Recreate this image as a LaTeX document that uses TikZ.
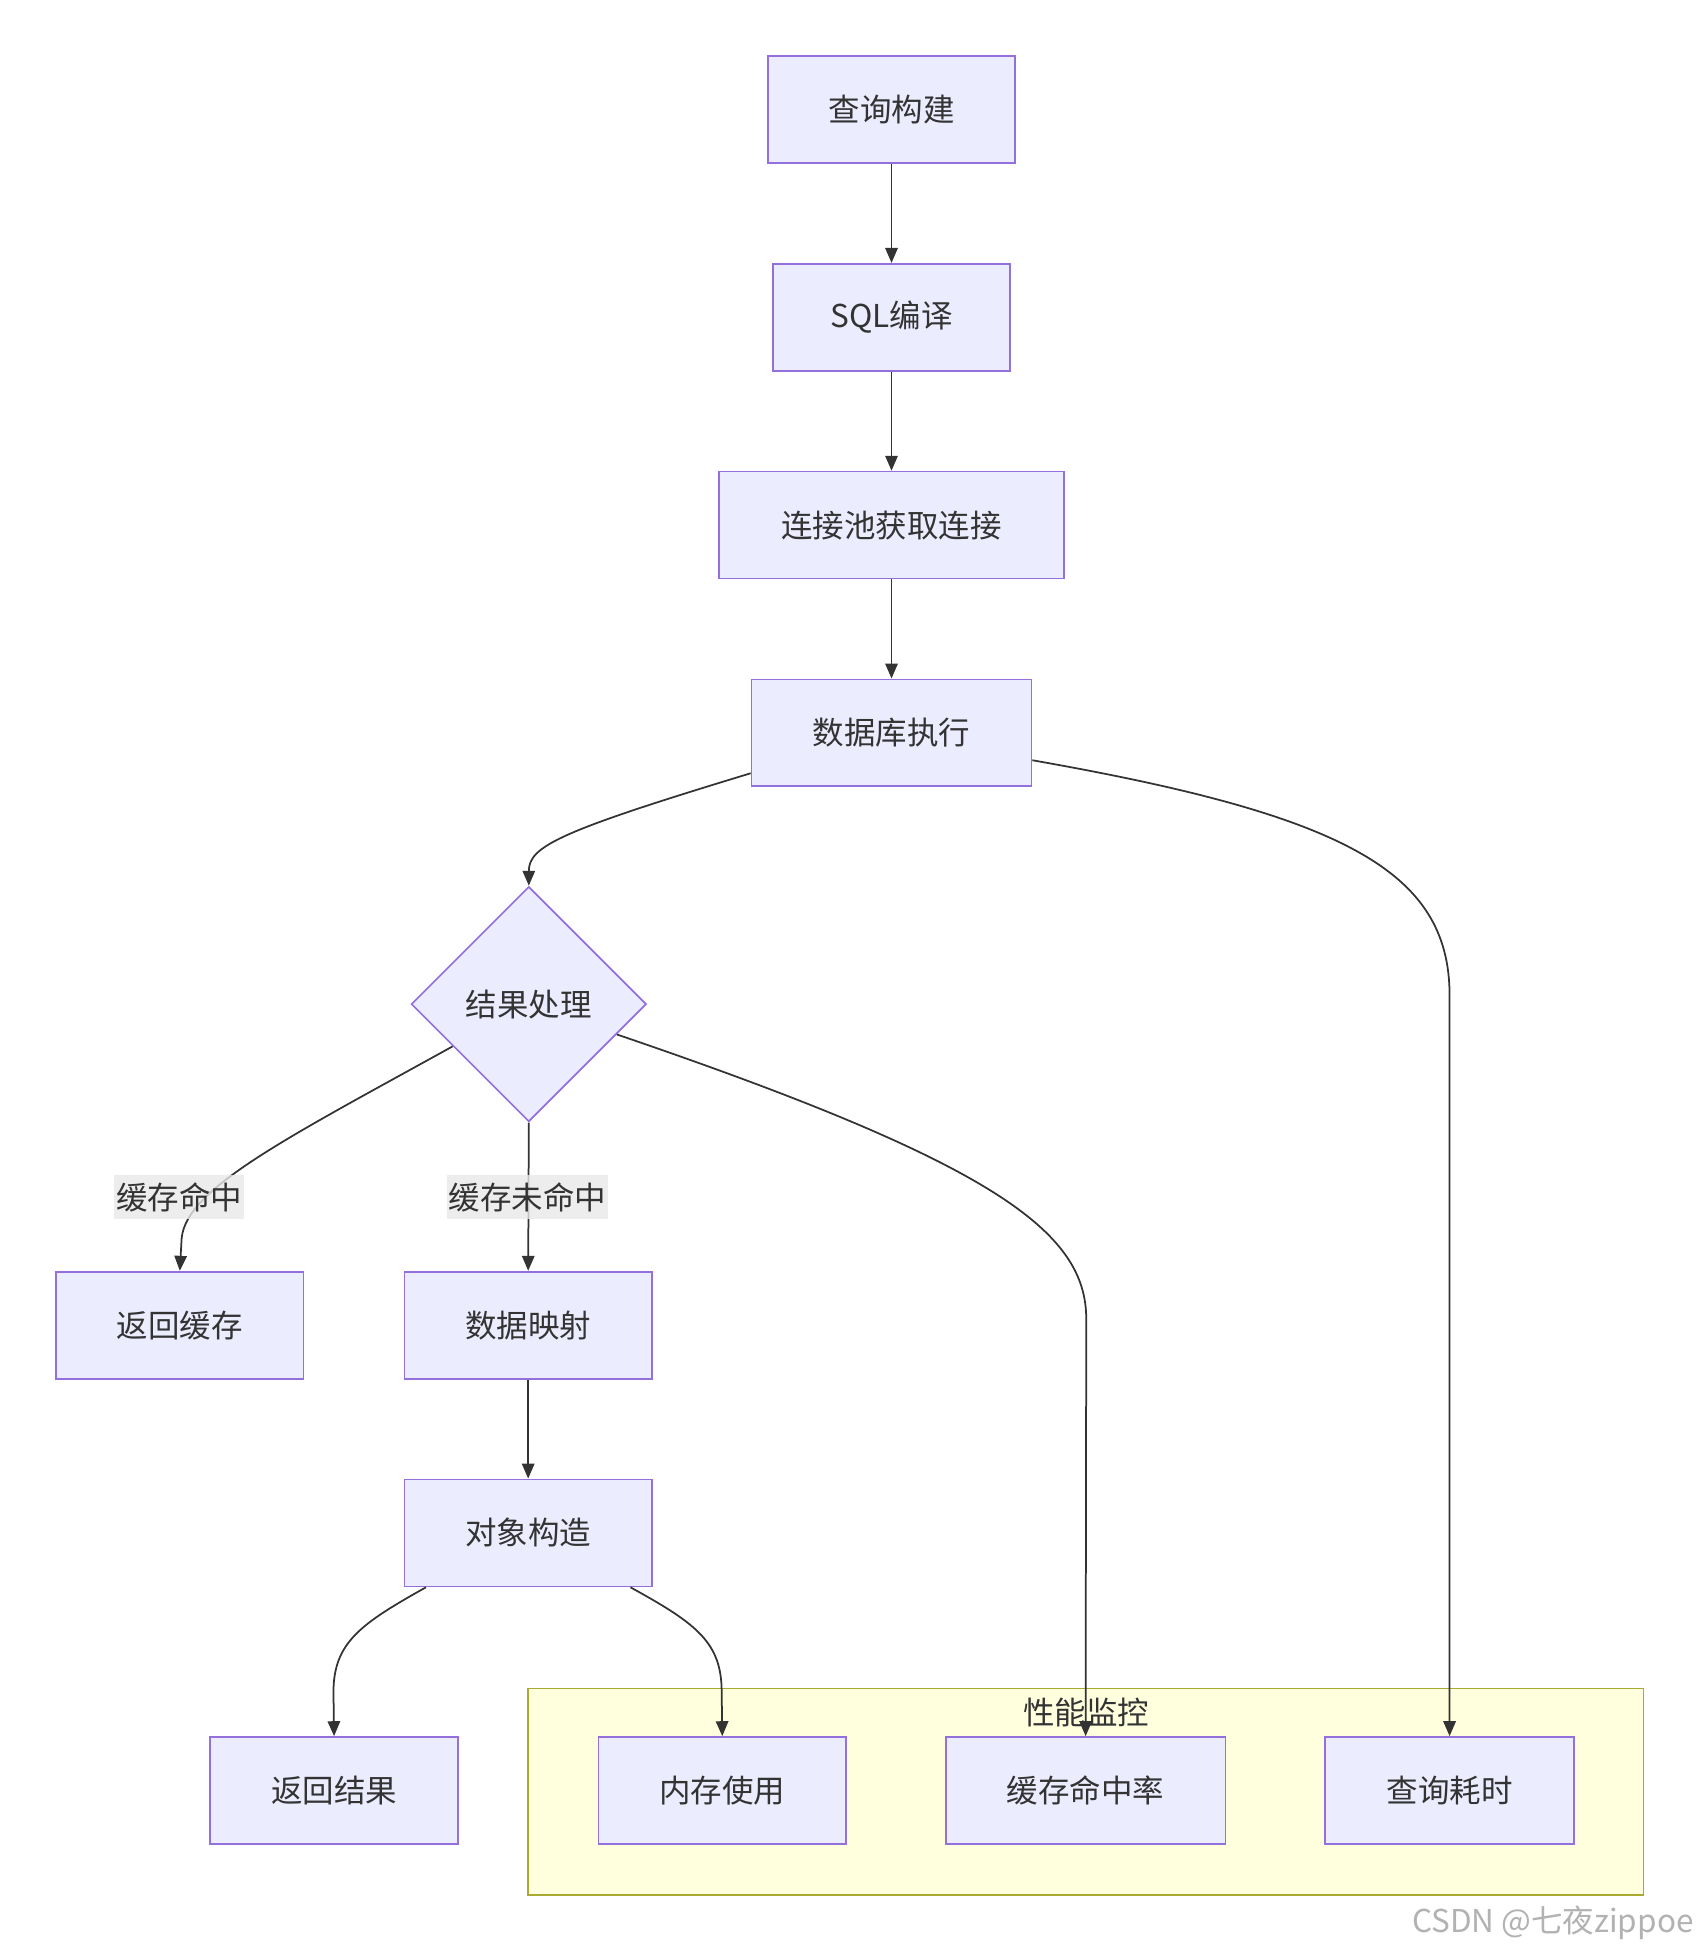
\documentclass[tikz,border=0pt]{standalone}
\usepackage{fontspec}
\newfontfamily\cjk{Noto Sans CJK SC}
\usetikzlibrary{shapes.geometric,arrows.meta}
\definecolor{nodefill}{HTML}{ECECFF}
\definecolor{nodeline}{HTML}{9370DB}
\definecolor{edgeline}{HTML}{333333}
\definecolor{labelfill}{HTML}{E8E8E8}
\definecolor{groupfill}{HTML}{FFFFDE}
\definecolor{groupline}{HTML}{AAAA33}
\begin{document}
\begin{tikzpicture}[x=0.02cm,y=-0.02cm,
        every node/.style={font=\cjk\fontsize{14.4}{17}\selectfont,text=edgeline},
        box/.style={draw=nodeline,fill=nodefill,line width=0.8pt,minimum height=1.72cm,inner sep=0pt},
        decision/.style={diamond,aspect=1,draw=nodeline,fill=nodefill,line width=0.8pt,minimum width=3.78cm,minimum height=3.78cm,inner sep=0pt},
        edgelabel/.style={fill=labelfill,fill opacity=0.8,text opacity=1,inner xsep=1pt,inner ysep=0pt,minimum height=0.72cm},
        flow/.style={draw=edgeline,line width=0.8pt,-{Triangle[length=0.24cm,width=0.2cm]}},
        group/.style={draw=groupline,fill=groupfill,line width=0.8pt,minimum width=17.94cm,minimum height=3.32cm,inner sep=0pt}]
        \useasboundingbox (0,0) rectangle (1366,1568);

        % Draw the monitoring group behind its nodes
        \node[group] (monitor) at (872.5,1440) {};
        \node (monitortitle) at (873,1376) {性能监控};

        % Draw the main query pipeline
        \node[box,minimum width=3.98cm] (build) at (716.5,88) {查询构建};
        \node[box,minimum width=3.82cm] (compile) at (716.5,255) {SQL编译};
        \node[box,minimum width=5.54cm] (pool) at (716.5,422) {连接池获取连接};
        \node[box,minimum width=4.5cm] (exec) at (716.5,589) {数据库执行};
        \node[decision] (result) at (425,807) {结果处理};

        % Draw the two result branches
        \node[box,minimum width=3.98cm] (retcache) at (144.5,1065) {返回缓存};
        \node[box,minimum width=3.98cm] (mapping) at (424.5,1065) {数据映射};
        \node[box,minimum width=3.98cm] (objbuild) at (424.5,1232) {对象构造};
        \node[box,minimum width=3.98cm] (retres) at (268.5,1439) {返回结果};

        % Draw the monitoring nodes
        \node[box,minimum width=3.98cm] (memuse) at (580.5,1439) {内存使用};
        \node[box,minimum width=4.5cm] (hitrate) at (872.5,1439) {缓存命中率};
        \node[box,minimum width=4cm] (qtime) at (1165,1439) {查询耗时};

        % Draw the connectors
        \draw[flow] (build) -- (compile);
        \draw[flow] (compile) -- (pool);
        \draw[flow] (pool) -- (exec);
        \draw[flow] (exec.196) .. controls (450,668) and (425,680) .. (result.north);
        \draw[flow] (exec.-11) .. controls (1080,655) and (1165,700) .. (1165,800) -- (qtime.north);
        \draw[flow] (result.209) .. controls (230,915) and (150,955) .. (146,995) -- (retcache.north);
        \draw[flow] (result.south) -- (mapping.north);
        \draw[flow] (result.-19) .. controls (800,935) and (873,990) .. (873,1060) -- (hitrate.north);
        \draw[flow] (mapping) -- (objbuild);
        \draw[flow] (objbuild.208) .. controls (290,1305) and (268,1320) .. (268,1360) -- (retres.north);
        \draw[flow] (objbuild.-28) .. controls (560,1305) and (580,1320) .. (580,1360) -- (memuse.north);

        % Draw the branch labels on top
        \node[edgelabel] (hitlabel) at (144,962) {缓存命中};
        \node[edgelabel] (misslabel) at (424,962) {缓存未命中};

        % Watermark
        \node[text=black!30] (mark) at (1248,1545) {CSDN @七夜zippoe};
    \end{tikzpicture}
\end{document}
